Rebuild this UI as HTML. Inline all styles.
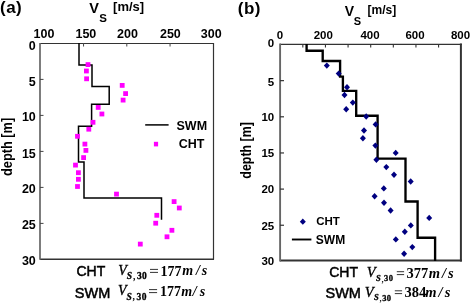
<!DOCTYPE html>
<html><head><meta charset="utf-8"><style>
html,body{margin:0;padding:0;background:#fff;width:472px;height:303px;overflow:hidden}
svg{display:block;will-change:transform}
</style></head><body>
<svg width="472" height="303" viewBox="0 0 472 303">
<rect width="472" height="303" fill="#fff"/>
<path d="M40 43.5 H213.5" stroke="#333" stroke-width="1.1" fill="none"/>
<path d="M213.5 43 V259.5" stroke="#333" stroke-width="1.2" fill="none"/>
<path d="M40 259.2 H214" stroke="#333" stroke-width="1.4" fill="none"/>
<path d="M40 43 V259.8" stroke="#666" stroke-width="1.7" fill="none"/>
<line x1="83.55" y1="43" x2="83.55" y2="46.5" stroke="#444" stroke-width="1"/>
<line x1="126.8" y1="43" x2="126.8" y2="46.5" stroke="#444" stroke-width="1"/>
<line x1="170.05" y1="43" x2="170.05" y2="46.5" stroke="#444" stroke-width="1"/>
<line x1="40" y1="79.4" x2="43.5" y2="79.4" stroke="#444" stroke-width="1"/>
<line x1="40" y1="115.4" x2="43.5" y2="115.4" stroke="#444" stroke-width="1"/>
<line x1="40" y1="151.4" x2="43.5" y2="151.4" stroke="#444" stroke-width="1"/>
<line x1="40" y1="187.4" x2="43.5" y2="187.4" stroke="#444" stroke-width="1"/>
<line x1="40" y1="223.4" x2="43.5" y2="223.4" stroke="#444" stroke-width="1"/>
<path d="M280 44.3 H461.9" stroke="#333" stroke-width="1.2" fill="none"/>
<path d="M460.9 43.5 V261.5" stroke="#333" stroke-width="2" fill="none"/>
<path d="M280 260.5 H461.9" stroke="#333" stroke-width="2" fill="none"/>
<path d="M280.1 43.5 V261.5" stroke="#666" stroke-width="1.9" fill="none"/>
<line x1="302.825" y1="44" x2="302.825" y2="47.6" stroke="#333" stroke-width="1.1"/>
<line x1="325.45" y1="44" x2="325.45" y2="47.6" stroke="#333" stroke-width="1.1"/>
<line x1="348.075" y1="44" x2="348.075" y2="47.6" stroke="#333" stroke-width="1.1"/>
<line x1="370.7" y1="44" x2="370.7" y2="47.6" stroke="#333" stroke-width="1.1"/>
<line x1="393.325" y1="44" x2="393.325" y2="47.6" stroke="#333" stroke-width="1.1"/>
<line x1="415.95" y1="44" x2="415.95" y2="47.6" stroke="#333" stroke-width="1.1"/>
<line x1="438.575" y1="44" x2="438.575" y2="47.6" stroke="#333" stroke-width="1.1"/>
<line x1="280" y1="80.64999999999999" x2="284" y2="80.64999999999999" stroke="#333" stroke-width="1.2"/>
<line x1="280" y1="116.8" x2="284" y2="116.8" stroke="#333" stroke-width="1.2"/>
<line x1="280" y1="152.95" x2="284" y2="152.95" stroke="#333" stroke-width="1.2"/>
<line x1="280" y1="189.10000000000002" x2="284" y2="189.10000000000002" stroke="#333" stroke-width="1.2"/>
<line x1="280" y1="225.25" x2="284" y2="225.25" stroke="#333" stroke-width="1.2"/>
<path d="M79 43 V65 H92 V86.5 H109.2 V104.3 H91.6 V126.3 H78.5 V162 H84 V197.9 H161.5 V219.7" fill="none" stroke="#000" stroke-width="1.5"/>
<rect x="85.6" y="62.2" width="4.8" height="4.8" fill="#ff00ff"/>
<rect x="84.0" y="68.6" width="4.8" height="4.8" fill="#ff00ff"/>
<rect x="84.2" y="76.4" width="4.8" height="4.8" fill="#ff00ff"/>
<rect x="119.8" y="83.0" width="4.8" height="4.8" fill="#ff00ff"/>
<rect x="123.2" y="91.2" width="4.8" height="4.8" fill="#ff00ff"/>
<rect x="120.7" y="97.7" width="4.8" height="4.8" fill="#ff00ff"/>
<rect x="95.8" y="105.0" width="4.8" height="4.8" fill="#ff00ff"/>
<rect x="99.5" y="111.6" width="4.8" height="4.8" fill="#ff00ff"/>
<rect x="90.6" y="119.9" width="4.8" height="4.8" fill="#ff00ff"/>
<rect x="86.4" y="126.8" width="4.8" height="4.8" fill="#ff00ff"/>
<rect x="75.1" y="133.9" width="4.8" height="4.8" fill="#ff00ff"/>
<rect x="82.5" y="141.7" width="4.8" height="4.8" fill="#ff00ff"/>
<rect x="83.5" y="148.0" width="4.8" height="4.8" fill="#ff00ff"/>
<rect x="81.2" y="155.2" width="4.8" height="4.8" fill="#ff00ff"/>
<rect x="73.1" y="162.7" width="4.8" height="4.8" fill="#ff00ff"/>
<rect x="76.0" y="170.3" width="4.8" height="4.8" fill="#ff00ff"/>
<rect x="76.0" y="176.9" width="4.8" height="4.8" fill="#ff00ff"/>
<rect x="75.1" y="184.1" width="4.8" height="4.8" fill="#ff00ff"/>
<rect x="114.1" y="191.7" width="4.8" height="4.8" fill="#ff00ff"/>
<rect x="171.7" y="199.2" width="4.8" height="4.8" fill="#ff00ff"/>
<rect x="176.9" y="205.6" width="4.8" height="4.8" fill="#ff00ff"/>
<rect x="154.4" y="212.9" width="4.8" height="4.8" fill="#ff00ff"/>
<rect x="153.3" y="220.8" width="4.8" height="4.8" fill="#ff00ff"/>
<rect x="169.5" y="227.9" width="4.8" height="4.8" fill="#ff00ff"/>
<rect x="164.6" y="234.4" width="4.8" height="4.8" fill="#ff00ff"/>
<rect x="137.9" y="241.7" width="4.8" height="4.8" fill="#ff00ff"/>
<path d="M306.6 44 V50.7 H322.7 V61 H340.1 V76.6 H342.9 V90.9 H356.2 V115.7 H377.6 V158.6 H405.5 V201.5 H417.6 V237.7 H435.1 V261" fill="none" stroke="#000" stroke-width="2.35"/>
<path d="M326.8 62.39999999999999 L329.8 65.6 L326.8 68.8 L323.8 65.6 Z" fill="#000080"/>
<path d="M338.7 70.39999999999999 L341.7 73.6 L338.7 76.8 L335.7 73.6 Z" fill="#000080"/>
<path d="M347 84.1 L350 87.3 L347 90.5 L344 87.3 Z" fill="#000080"/>
<path d="M344.5 91.8 L347.5 95 L344.5 98.2 L341.5 95 Z" fill="#000080"/>
<path d="M352.8 99.39999999999999 L355.8 102.6 L352.8 105.8 L349.8 102.6 Z" fill="#000080"/>
<path d="M346.2 106.0 L349.2 109.2 L346.2 112.4 L343.2 109.2 Z" fill="#000080"/>
<path d="M366.2 113.3 L369.2 116.5 L366.2 119.7 L363.2 116.5 Z" fill="#000080"/>
<path d="M375.6 121.2 L378.6 124.4 L375.6 127.60000000000001 L372.6 124.4 Z" fill="#000080"/>
<path d="M364 127.3 L367 130.5 L364 133.7 L361 130.5 Z" fill="#000080"/>
<path d="M362.9 135.10000000000002 L365.9 138.3 L362.9 141.5 L359.9 138.3 Z" fill="#000080"/>
<path d="M375.4 142.4 L378.4 145.6 L375.4 148.79999999999998 L372.4 145.6 Z" fill="#000080"/>
<path d="M376.4 156.60000000000002 L379.4 159.8 L376.4 163.0 L373.4 159.8 Z" fill="#000080"/>
<path d="M395.7 149.70000000000002 L398.7 152.9 L395.7 156.1 L392.7 152.9 Z" fill="#000080"/>
<path d="M386.3 163.9 L389.3 167.1 L386.3 170.29999999999998 L383.3 167.1 Z" fill="#000080"/>
<path d="M394 171.5 L397 174.7 L394 177.89999999999998 L391 174.7 Z" fill="#000080"/>
<path d="M383.8 185.20000000000002 L386.8 188.4 L383.8 191.6 L380.8 188.4 Z" fill="#000080"/>
<path d="M410.7 178.3 L413.7 181.5 L410.7 184.7 L407.7 181.5 Z" fill="#000080"/>
<path d="M374.6 193.0 L377.6 196.2 L374.6 199.39999999999998 L371.6 196.2 Z" fill="#000080"/>
<path d="M384 199.60000000000002 L387 202.8 L384 206.0 L381 202.8 Z" fill="#000080"/>
<path d="M390.6 207.3 L393.6 210.5 L390.6 213.7 L387.6 210.5 Z" fill="#000080"/>
<path d="M410.8 222.20000000000002 L413.8 225.4 L410.8 228.6 L407.8 225.4 Z" fill="#000080"/>
<path d="M404.8 228.60000000000002 L407.8 231.8 L404.8 235.0 L401.8 231.8 Z" fill="#000080"/>
<path d="M429.2 214.70000000000002 L432.2 217.9 L429.2 221.1 L426.2 217.9 Z" fill="#000080"/>
<path d="M395.8 236.20000000000002 L398.8 239.4 L395.8 242.6 L392.8 239.4 Z" fill="#000080"/>
<path d="M412.3 243.9 L415.3 247.1 L412.3 250.29999999999998 L409.3 247.1 Z" fill="#000080"/>
<path d="M404.1 250.5 L407.1 253.7 L404.1 256.9 L401.1 253.7 Z" fill="#000080"/>
<line x1="145.2" y1="124.9" x2="168.6" y2="124.9" stroke="#000" stroke-width="1.5"/>
<rect x="153.9" y="141.8" width="4.2" height="4.6" fill="#ff00ff"/>
<path d="M302.8 218.6 L305.8 221.7 L302.8 224.8 L299.8 221.7 Z" fill="#000080"/>
<line x1="291.9" y1="239.5" x2="311.4" y2="239.5" stroke="#000" stroke-width="1.9"/>
<text x="44" y="38" font-family="Liberation Sans" font-size="12.5" font-weight="bold" font-style="normal" text-anchor="middle" >100</text>
<text x="85.9" y="38" font-family="Liberation Sans" font-size="12.5" font-weight="bold" font-style="normal" text-anchor="middle" >150</text>
<text x="127.5" y="38" font-family="Liberation Sans" font-size="12.5" font-weight="bold" font-style="normal" text-anchor="middle" >200</text>
<text x="170.4" y="38" font-family="Liberation Sans" font-size="12.5" font-weight="bold" font-style="normal" text-anchor="middle" >250</text>
<text x="211.3" y="38" font-family="Liberation Sans" font-size="12.5" font-weight="bold" font-style="normal" text-anchor="middle" >300</text>
<text x="35.8" y="50" font-family="Liberation Sans" font-size="12.5" font-weight="bold" font-style="normal" text-anchor="end" >0</text>
<text x="35.8" y="86" font-family="Liberation Sans" font-size="12.5" font-weight="bold" font-style="normal" text-anchor="end" >5</text>
<text x="35.8" y="121" font-family="Liberation Sans" font-size="12.5" font-weight="bold" font-style="normal" text-anchor="end" >10</text>
<text x="35.8" y="158" font-family="Liberation Sans" font-size="12.5" font-weight="bold" font-style="normal" text-anchor="end" >15</text>
<text x="35.8" y="193" font-family="Liberation Sans" font-size="12.5" font-weight="bold" font-style="normal" text-anchor="end" >20</text>
<text x="35.8" y="229" font-family="Liberation Sans" font-size="12.5" font-weight="bold" font-style="normal" text-anchor="end" >25</text>
<text x="35.8" y="265" font-family="Liberation Sans" font-size="12.5" font-weight="bold" font-style="normal" text-anchor="end" >30</text>
<text x="280" y="39" font-family="Liberation Sans" font-size="11.5" font-weight="bold" font-style="normal" text-anchor="middle" >0</text>
<text x="323.3" y="39" font-family="Liberation Sans" font-size="11.5" font-weight="bold" font-style="normal" text-anchor="middle" >200</text>
<text x="370" y="39" font-family="Liberation Sans" font-size="11.5" font-weight="bold" font-style="normal" text-anchor="middle" >400</text>
<text x="415" y="39" font-family="Liberation Sans" font-size="11.5" font-weight="bold" font-style="normal" text-anchor="middle" >600</text>
<text x="460.5" y="39" font-family="Liberation Sans" font-size="11.5" font-weight="bold" font-style="normal" text-anchor="middle" >800</text>
<text x="274.2" y="47" font-family="Liberation Sans" font-size="11.5" font-weight="bold" font-style="normal" text-anchor="end" >0</text>
<text x="274.2" y="86" font-family="Liberation Sans" font-size="11.5" font-weight="bold" font-style="normal" text-anchor="end" >5</text>
<text x="274.2" y="120.5" font-family="Liberation Sans" font-size="11.5" font-weight="bold" font-style="normal" text-anchor="end" >10</text>
<text x="274.2" y="157" font-family="Liberation Sans" font-size="11.5" font-weight="bold" font-style="normal" text-anchor="end" >15</text>
<text x="274.2" y="193" font-family="Liberation Sans" font-size="11.5" font-weight="bold" font-style="normal" text-anchor="end" >20</text>
<text x="274.2" y="230" font-family="Liberation Sans" font-size="11.5" font-weight="bold" font-style="normal" text-anchor="end" >25</text>
<text x="274.2" y="265" font-family="Liberation Sans" font-size="11.5" font-weight="bold" font-style="normal" text-anchor="end" >30</text>
<text x="0" y="13.4" font-family="Liberation Sans" font-size="17" font-weight="bold" font-style="normal" text-anchor="start" letter-spacing="0.5">(a)</text>
<text x="237.8" y="13.6" font-family="Liberation Sans" font-size="17" font-weight="bold" font-style="normal" text-anchor="start" letter-spacing="0.5">(b)</text>
<text x="89.3" y="13" font-family="Liberation Sans" font-size="14.5" font-weight="bold" font-style="normal" text-anchor="start" >V</text>
<text x="99.3" y="22.3" font-family="Liberation Sans" font-size="11.5" font-weight="bold" font-style="normal" text-anchor="start" >S</text>
<text x="113.1" y="11" font-family="Liberation Sans" font-size="13" font-weight="bold" font-style="normal" text-anchor="start" >[m/s]</text>
<text x="344.7" y="16" font-family="Liberation Sans" font-size="14" font-weight="bold" font-style="normal" text-anchor="start" >V</text>
<text x="353.8" y="25" font-family="Liberation Sans" font-size="11" font-weight="bold" font-style="normal" text-anchor="start" >S</text>
<text x="367.6" y="14.2" font-family="Liberation Sans" font-size="12" font-weight="bold" font-style="normal" text-anchor="start" >[m/s]</text>
<text x="0" y="0" font-family="Liberation Sans" font-size="15" font-weight="bold" text-anchor="middle" transform="translate(12.4,146.9) rotate(-90) scale(0.854,1)">depth [m]</text>
<text x="0" y="0" font-family="Liberation Sans" font-size="15" font-weight="bold" text-anchor="middle" transform="translate(251.2,150.4) rotate(-90) scale(0.83,1)">depth [m]</text>
<text x="176.5" y="129.5" font-family="Liberation Sans" font-size="12.5" font-weight="bold" font-style="normal" text-anchor="start" >SWM</text>
<text x="178.8" y="147.5" font-family="Liberation Sans" font-size="12.5" font-weight="bold" font-style="normal" text-anchor="start" >CHT</text>
<text x="316.2" y="225" font-family="Liberation Sans" font-size="11.5" font-weight="bold" font-style="normal" text-anchor="start" >CHT</text>
<text x="315.8" y="244" font-family="Liberation Sans" font-size="12" font-weight="bold" font-style="normal" text-anchor="start" >SWM</text>
<text x="76.50" y="276.00" font-family="Liberation Sans" font-size="14" font-weight="normal" font-style="normal" stroke="#000" stroke-width="0.5">CHT</text>
<text x="118.20" y="275.20" font-family="Liberation Serif" font-size="14" font-weight="normal" font-style="italic" stroke="#000" stroke-width="0.35">V</text>
<text x="126.80" y="278.80" font-family="Liberation Serif" font-size="9.5" font-weight="bold" font-style="italic" stroke="#000" stroke-width="0.3">S</text>
<text x="133.00" y="279.50" font-family="Liberation Serif" font-size="9.5" font-weight="bold" font-style="normal" >,</text>
<text x="136.90" y="279.20" font-family="Liberation Serif" font-size="9.5" font-weight="bold" font-style="normal" letter-spacing="0.4" stroke="#000" stroke-width="0.3">30</text>
<path d="M150 269.4 H158 M150 272.4 H158" stroke="#333" stroke-width="1"/>
<text x="160.50" y="275.60" font-family="Liberation Serif" font-size="14" font-weight="bold" font-style="normal" >177</text>
<text x="182.30" y="275.30" font-family="Liberation Serif" font-size="14" font-weight="bold" font-style="italic" >m</text>
<text x="195.90" y="275.30" font-family="Liberation Serif" font-size="14" font-weight="bold" font-style="italic" >/</text>
<text x="201.70" y="275.30" font-family="Liberation Serif" font-size="14" font-weight="bold" font-style="italic" >s</text>
<text x="74.80" y="297.60" font-family="Liberation Sans" font-size="14.5" font-weight="normal" font-style="normal" stroke="#000" stroke-width="0.5">SWM</text>
<text x="118.00" y="295.30" font-family="Liberation Serif" font-size="14" font-weight="normal" font-style="italic" stroke="#000" stroke-width="0.35">V</text>
<text x="126.40" y="299.50" font-family="Liberation Serif" font-size="9.5" font-weight="bold" font-style="italic" stroke="#000" stroke-width="0.3">S</text>
<text x="132.60" y="300.20" font-family="Liberation Serif" font-size="9.5" font-weight="bold" font-style="normal" >,</text>
<text x="136.50" y="300.00" font-family="Liberation Serif" font-size="9.5" font-weight="bold" font-style="normal" letter-spacing="0.4" stroke="#000" stroke-width="0.3">30</text>
<path d="M149 289.6 H157.1 M149 292.6 H157.1" stroke="#333" stroke-width="1"/>
<text x="160.00" y="295.80" font-family="Liberation Serif" font-size="14" font-weight="bold" font-style="normal" >177</text>
<text x="181.20" y="295.80" font-family="Liberation Serif" font-size="14" font-weight="bold" font-style="italic" >m</text>
<text x="192.80" y="295.80" font-family="Liberation Serif" font-size="14" font-weight="bold" font-style="italic" >/</text>
<text x="199.70" y="295.80" font-family="Liberation Serif" font-size="14" font-weight="bold" font-style="italic" >s</text>
<text x="329.20" y="277.30" font-family="Liberation Sans" font-size="14" font-weight="normal" font-style="normal" stroke="#000" stroke-width="0.5">CHT</text>
<text x="366.80" y="277.30" font-family="Liberation Serif" font-size="14.5" font-weight="normal" font-style="italic" stroke="#000" stroke-width="0.35">V</text>
<text x="376.10" y="280.80" font-family="Liberation Serif" font-size="8.5" font-weight="bold" font-style="italic" stroke="#000" stroke-width="0.3">S</text>
<text x="381.60" y="281.60" font-family="Liberation Serif" font-size="8.5" font-weight="bold" font-style="normal" >,</text>
<text x="384.00" y="281.00" font-family="Liberation Serif" font-size="8.5" font-weight="bold" font-style="normal" letter-spacing="0.4" stroke="#000" stroke-width="0.3">30</text>
<path d="M396.8 271.7 H404.1 M396.8 274.6 H404.1" stroke="#333" stroke-width="1"/>
<text x="406.60" y="277.80" font-family="Liberation Serif" font-size="14.5" font-weight="bold" font-style="normal" >377</text>
<text x="428.80" y="277.80" font-family="Liberation Serif" font-size="14.5" font-weight="bold" font-style="italic" >m</text>
<text x="442.00" y="277.80" font-family="Liberation Serif" font-size="14.5" font-weight="bold" font-style="italic" >/</text>
<text x="447.90" y="277.80" font-family="Liberation Serif" font-size="14.5" font-weight="bold" font-style="italic" >s</text>
<text x="325.50" y="297.60" font-family="Liberation Sans" font-size="14.5" font-weight="normal" font-style="normal" stroke="#000" stroke-width="0.5">SWM</text>
<text x="364.80" y="296.90" font-family="Liberation Serif" font-size="14.5" font-weight="normal" font-style="italic" stroke="#000" stroke-width="0.35">V</text>
<text x="374.00" y="300.40" font-family="Liberation Serif" font-size="8.5" font-weight="bold" font-style="italic" stroke="#000" stroke-width="0.3">S</text>
<text x="379.50" y="301.20" font-family="Liberation Serif" font-size="8.5" font-weight="bold" font-style="normal" >,</text>
<text x="382.20" y="300.50" font-family="Liberation Serif" font-size="8.5" font-weight="bold" font-style="normal" letter-spacing="0.4" stroke="#000" stroke-width="0.3">30</text>
<path d="M394.8 290.8 H402.1 M394.8 293.6 H402.1" stroke="#333" stroke-width="1"/>
<text x="404.60" y="297.40" font-family="Liberation Serif" font-size="14.5" font-weight="bold" font-style="normal" >384</text>
<text x="425.20" y="297.40" font-family="Liberation Serif" font-size="14.5" font-weight="bold" font-style="italic" >m</text>
<text x="438.40" y="297.40" font-family="Liberation Serif" font-size="14.5" font-weight="bold" font-style="italic" >/</text>
<text x="444.80" y="297.40" font-family="Liberation Serif" font-size="14.5" font-weight="bold" font-style="italic" >s</text>
</svg></body></html>
